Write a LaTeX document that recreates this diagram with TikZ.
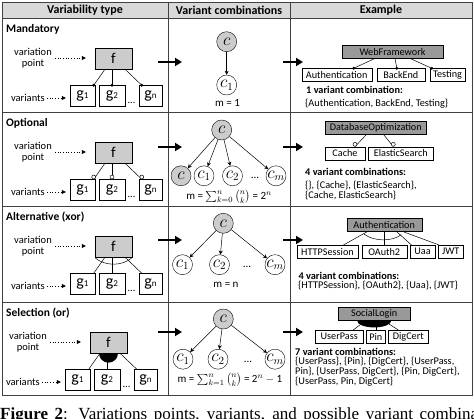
\documentclass[tikz,border=0pt]{standalone}
\usepackage{amsmath}
\usepackage{fontspec}
\setmainfont{Carlito}
\newfontfamily\capfont{Liberation Serif}
\usetikzlibrary{positioning, arrows.meta, calc}

\newcommand{\gv}[1]{g{\fontsize{9}{9}\selectfont #1}}

\begin{document}
\begin{tikzpicture}[
    x=1pt, y=1pt,
    grid/.style={draw=black!75, line width=0.9pt},
    head/.style={font=\bfseries\fontsize{12}{12}\selectfont},
    rowname/.style={anchor=west, inner sep=1pt, font=\bfseries\fontsize{11.5}{12}\selectfont},
    note/.style={font=\fontsize{10.5}{11}\selectfont, align=center, inner sep=0pt},
    vpbox/.style={draw, fill=black!20, minimum width=37pt, minimum height=21pt, inner sep=0pt, font=\fontsize{15}{15}\selectfont},
    varbox/.style={draw, fill=white, minimum height=21pt, inner sep=0pt, font=\fontsize{16}{16}\selectfont},
    cnode/.style={circle, draw, fill=white, minimum size=20pt, inner sep=0pt, font=\fontsize{16}{16}\selectfont},
    croot/.style={cnode, fill=black!20},
    feat/.style={draw, fill=white, minimum height=13pt, inner sep=0pt, font=\fontsize{10.2}{10}\selectfont},
    featroot/.style={feat, fill=black!40},
    combhead/.style={anchor=west, inner sep=0pt, font=\bfseries\fontsize{10.3}{10}\selectfont},
    combtext/.style={anchor=north west, inner sep=0pt, align=left, font=\fontsize{10.3}{10}\selectfont},
    formula/.style={inner sep=0pt, font=\fontsize{11}{12}\selectfont},
    bigarrow/.style={-{Triangle[length=7pt,width=8pt]}, line width=2.2pt},
    dotarrow/.style={dotted, -{Triangle[length=4pt,width=4pt]}, line width=0.7pt},
    edge/.style={-{Stealth[length=4pt,width=4pt]}, line width=0.5pt},
    link/.style={line width=0.5pt},
    mdot/.style={circle, fill=black, inner sep=0pt, minimum size=3.2pt},
    odot/.style={circle, draw, fill=white, inner sep=0pt, minimum size=4pt, line width=0.5pt}
]
\useasboundingbox (0,0) rectangle (474,-419);

% table
\fill[black!15] (2,-2) rectangle (472,-18);
\draw[grid] (2,-2) rectangle (472,-395);
\foreach \y in {18,112,206,302} \draw[grid] (2,-\y) -- (472,-\y);
\draw[grid] (168,-2) -- (168,-395);
\draw[grid] (290,-2) -- (290,-395);

\node[head] (h1) at (85,-10) {Variability type};
\node[head] (h2) at (229,-10) {Variant combinations};
\node[head] (h3) at (381,-10) {Example};

% variability types
\foreach \r/\ty/\dx/\ay/\kind in {1/18/0/62/Mandatory, 2/112/0/147/Optional,
        3/206/0/240/{Alternative (xor)}, 4/302/-5/332/{Selection (or)}} {
    \node[rowname] (k\r) at (5,-\ty-11) {\kind};
    \node[note] (vp\r) at (33+\dx,-\ty-40) {variation\\point};
    \node[vpbox] (f\r) at (113.5+\dx,-\ty-40.5) {f};
    \node[varbox, minimum width=25pt] (ga\r) at (82.5+\dx,-\ty-78) {\gv{1}};
    \node[varbox, minimum width=26pt] (gb\r) at (112+\dx,-\ty-78) {\gv{2}};
    \node[varbox, minimum width=23pt] (gn\r) at (150.5+\dx,-\ty-78) {\gv{n}};
    \node[note, anchor=base] (gd\r) at (131.5+\dx,-\ty-86) {...};
    \node[note, anchor=east] (vl\r) at (45+\dx,-\ty-80) {variants};
    \draw[dotarrow, shorten <=3pt] (vp\r.east) -- ($(vp\r.east -| f\r.west)+(-9,0)$);
    \draw[dotarrow, shorten <=2pt] (vl\r.east) -- ($(vl\r.east -| ga\r.west)+(-4,0)$);
    \draw[link] ($(f\r.south)+(-8.5,0)$) -- ($(ga\r.north east)+(-1.5,0)$) coordinate (ea\r);
    \draw[link] (gb\r.north |- f\r.south) -- (gb\r.north) coordinate (eb\r);
    \draw[link] ($(f\r.south)+(11.5,0)$) -- ($(gn\r.north west)+(3,0)$) coordinate (en\r);
    \coordinate (pa\r) at (158,-\ay);
    \coordinate (pb\r) at (182,-\ay);
    \coordinate (qa\r) at (283,-\ay);
    \coordinate (qb\r) at (303,-\ay);
    \draw[bigarrow] (pa\r) -- (pb\r);
    \draw[bigarrow] (qa\r) -- (qb\r);
}
\foreach \e in {ea1,eb1,en1} \node[mdot] (d\e) at (\e) {};
\foreach \e in {ea2,eb2,en2} \node[odot, anchor=south] (d\e) at (\e) {};
\draw[link] ($(f3.south)+(-18,-1)$) .. controls ($(f3.south)+(-8,-9)$) and ($(f3.south)+(8,-9)$) .. ($(f3.south)+(18,-1)$);
\fill ($(f4.south)+(-9.5,0)$) arc[start angle=180, end angle=360, radius=9.5];

% variant combinations
\node[croot] (c1) at (226.7,-41.7) {$c$};
\node[cnode] (c1a) at (226.7,-85) {$c_1$};
\draw[edge] (c1) -- (c1a);
\node[formula] (m1) at (227.5,-103) {m = 1};

\node[croot] (c2) at (221.7,-130) {$c$};
\node[croot] (c2o) at (181,-175.8) {$c$};
\node[cnode] (c2a) at (204,-175.8) {$c_1$};
\node[cnode] (c2b) at (232.5,-175.8) {$c_2$};
\node[formula, anchor=base] (c2d) at (255,-179) {...};
\node[cnode] (c2m) at (276,-175.8) {$c_m$};
\foreach \s in {c2o,c2a,c2b,c2m} \draw[edge] (c2) -- (\s);
\node[formula] (m2) at (229,-197) {m = $\sum_{k=0}^{n}\binom{n}{k}$ = 2$^n$};

\node[croot] (c3) at (223.3,-223.3) {$c$};
\node[cnode] (c3a) at (182.5,-264.7) {$c_1$};
\node[cnode] (c3b) at (219.5,-264.7) {$c_2$};
\node[formula, anchor=base] (c3d) at (247,-268) {...};
\node[cnode] (c3m) at (275,-264.7) {$c_m$};
\foreach \s in {c3a,c3b,c3m} \draw[edge] (c3) -- (\s);
\node[formula] (m3) at (226,-285) {m = n};

\node[croot] (c4) at (223.3,-319) {$c$};
\node[cnode] (c4a) at (183,-359.2) {$c_1$};
\node[cnode] (c4b) at (218,-359.2) {$c_2$};
\node[formula, anchor=base] (c4d) at (248,-362.5) {...};
\node[cnode] (c4m) at (275,-359.2) {$c_m$};
\foreach \s in {c4a,c4b,c4m} \draw[edge] (c4) -- (\s);
\node[formula] (m4) at (230,-380) {m = $\sum_{k=1}^{n}\binom{n}{k}$ = 2$^n$ $-$ 1};

% examples
\node[featroot, minimum width=101pt] (web) at (392.5,-51.7) {WebFramework};
\node[feat, minimum width=70pt] (auth) at (336.7,-75) {Authentication};
\node[feat, minimum width=48pt] (back) at (400.8,-75) {BackEnd};
\node[feat, minimum width=35pt] (test) at (447.5,-75) {Testing};
\draw[link] ($(web.south)+(-17.5,0)$) -- ($(auth.north)+(17,0)$) node[mdot] (dauth) {};
\draw[link] ($(web.south)+(2.5,0)$) -- ($(back.north)+(-4,0)$) node[mdot] (dback) {};
\draw[link] ($(web.south)+(17.5,0)$) -- ($(test.north west)+(2,0)$) node[mdot] (dtest) {};
\node[combhead] (t1) at (306,-90) {1 variant combination:};
\node[combtext] (l1) at (305,-98.5) {\{Authentication, BackEnd, Testing\}};

\node[featroot, minimum width=101pt] (dbopt) at (375.8,-127.5) {DatabaseOptimization};
\node[feat, minimum width=40pt] (cache) at (345,-153.3) {Cache};
\node[feat, minimum width=65pt] (elastic) at (400.8,-153.3) {ElasticSearch};
\draw[link] ($(dbopt.south)+(-9,0)$) -- ($(cache.north)+(10,0)$) node[odot, anchor=south] (ocache) {};
\draw[link] ($(dbopt.south)+(7.5,0)$) -- ($(elastic.north)+(-7.5,0)$) node[odot, anchor=south] (oelastic) {};
\node[combhead] (t2) at (305,-171.7) {4 variant combinations:};
\node[combtext] (l2) at (305,-181) {\{\}, \{Cache\}, \{ElasticSearch\},\\\{Cache, ElasticSearch\}};

\node[featroot, minimum width=75pt] (authx) at (384.2,-225) {Authentication};
\node[feat, minimum width=61.6pt] (http) at (327.5,-251.7) {HTTPSession};
\node[feat, minimum width=45pt] (oauth) at (384.2,-251.7) {OAuth2};
\node[feat, minimum width=25pt] (uaa) at (422.5,-251.7) {Uaa};
\node[feat, minimum width=25pt] (jwt) at (450.8,-251.7) {JWT};
\draw[link] ($(authx.south)+(-17,0)$) -- ($(http.north)+(16,0)$);
\draw[link] (oauth.north |- authx.south) -- (oauth.north);
\draw[link] ($(authx.south)+(12.5,0)$) -- ($(uaa.north west)+(1.7,0)$);
\draw[link] ($(authx.south)+(19,0)$) -- ($(jwt.north west)+(1,0)$);
\draw[link] ($(authx.south)+(-20,-2.5)$) .. controls ($(authx.south)+(-10,-10)$) and ($(authx.south)+(8,-10)$) .. ($(authx.south)+(17,-3)$);
\node[combhead] (t3) at (298.3,-275.7) {4 variant combinations:};
\node[combtext] (l3) at (298,-281) {\{HTTPSession\}, \{OAuth2\}, \{Uaa\}, \{JWT\}};

\node[featroot, minimum width=72pt] (social) at (374.2,-314.2) {SocialLogin};
\node[feat, minimum width=48.3pt] (userpass) at (339.2,-336.7) {UserPass};
\node[feat, minimum width=18.3pt] (pin) at (375.8,-336.7) {Pin};
\node[feat, minimum width=40pt] (digcert) at (408.3,-336.7) {DigCert};
\draw[link] ($(social.south)+(-9,0)$) -- ($(userpass.north)+(14,0)$);
\draw[link] (pin.north |- social.south) -- (pin.north);
\draw[link] ($(social.south)+(10,0)$) -- ($(digcert.north)+(-10,0)$);
\fill ($(social.south)+(-17,0)$) arc[start angle=180, end angle=360, x radius=17, y radius=6.5];
\node[combhead] (t4) at (295,-351.7) {7 variant combinations:};
\node[combtext] (l4) at (295,-357) {\{UserPass\}, \{Pin\}, \{DigCert\}, \{UserPass,\\Pin\}, \{UserPass, DigCert\}, \{Pin, DigCert\},\\\{UserPass, Pin, DigCert\}};

% caption, cut by the page edge
\node[anchor=base west, inner sep=0pt, font=\capfont\fontsize{17}{17}\selectfont] (cap) at (0,-420) {\makebox[478pt][s]{\textbf{Figure 2}: Variations points, variants, and possible variant combina}};

\end{tikzpicture}
\end{document}
